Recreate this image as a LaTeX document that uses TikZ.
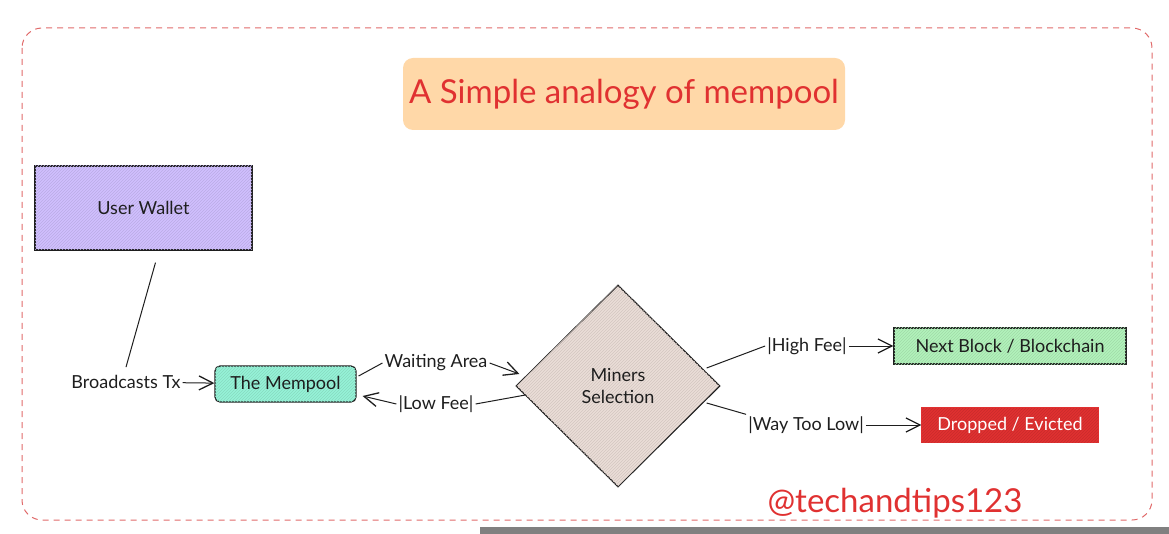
\documentclass[tikz,border=0pt]{standalone}
\usepackage{fontspec}
\setmainfont{Lato}
\usetikzlibrary{shapes.geometric,arrows.meta,patterns}
\definecolor{walletfill}{HTML}{D0BFFF}
\definecolor{poolfill}{HTML}{96F2D7}
\definecolor{selfill}{HTML}{EADDD7}
\definecolor{blockfill}{HTML}{B2F2BB}
\definecolor{dropfill}{HTML}{E03131}
\definecolor{titlefill}{HTML}{FFD8A8}
\definecolor{inkred}{HTML}{E03131}
\definecolor{framered}{HTML}{E06A6A}
\definecolor{ink}{HTML}{1E1E1E}
\begin{document}
\begin{tikzpicture}[x=1pt,y=-1pt,
  >={Straight Barb[length=14pt,width=14pt,line width=1.3pt]},
  every node/.style={font=\fontsize{18}{22}\selectfont, text=ink},
  hatchbox/.style={draw=ink, line width=1.2pt, inner sep=0pt,
    fill=#1, postaction={pattern=north east lines, pattern color=#1!90!black}},
  lbl/.style={inner sep=2pt},
  link/.style={draw=ink, line width=1pt}]
\useasboundingbox (0,0) rectangle (1169,534);
% frame and title
\draw[framered, line width=1pt, dash pattern=on 6pt off 5pt, rounded corners=20pt] (22,28) rectangle (1152,520);
\node[fill=titlefill, rounded corners=10pt, minimum width=442pt, minimum height=72pt, text=inkred, font=\fontsize{33}{40}\selectfont] (title) at (624,94) {A Simple analogy of mempool};
% boxes
\node[hatchbox=walletfill, minimum width=217pt, minimum height=84pt] (wallet) at (143.5,208) {User Wallet};
\node[hatchbox=poolfill, rounded corners=5pt, minimum width=141pt, minimum height=36pt] (mempool) at (285.5,384) {The Mempool};
\node[hatchbox=selfill, diamond, aspect=1, minimum width=204pt, minimum height=202pt, align=center] (sel) at (618,386) {Miners\\Selection};
\node[hatchbox=blockfill, minimum width=232pt, minimum height=36pt] (block) at (1010,346) {Next Block / Blockchain};
\node[hatchbox=dropfill, draw=dropfill, minimum width=176pt, minimum height=34pt, text=white] (drop) at (1010,425) {Dropped / Evicted};
% edge labels
\node[lbl] (bcast) at (126,382) {Broadcasts Tx};
\node[lbl] (waiting) at (436,363) {Waiting Area};
\node[lbl] (lowfee) at (436,404) {|Low Fee|};
\node[lbl] (highfee) at (807,346) {|High Fee|};
\node[lbl] (waylow) at (806,425) {|Way Too Low|};
% connectors
\draw[link] ([shift={(12pt,-12pt)}]wallet.south) -- ([yshift=6pt]bcast.north);
\draw[link,->] (bcast) -- (mempool);
\draw[link] ([shift={(2pt,8pt)}]mempool.east) -- (waiting.west);
\draw[link,->] (waiting.east) -- ([shift={(4pt,12pt)}]sel.west);
\draw[link] ([shift={(10pt,-9pt)}]sel.west) -- (lowfee.east);
\draw[link,->] (lowfee.west) -- ([shift={(6pt,-12pt)}]mempool.east);
\draw[link] ([shift={(-14pt,18pt)}]sel.east) -- (highfee.west);
\draw[link,->] (highfee.east) -- (block.west);
\draw[link] ([shift={(-14pt,-17pt)}]sel.east) -- (waylow.north west);
\draw[link,->] (waylow.east) -- (drop.west);
% footer
\node[text=inkred, font=\fontsize{33}{40}\selectfont] (handle) at (895,503) {@techandtips123};
\fill[gray] (480,527) rectangle (1169,534);
\end{tikzpicture}
\end{document}
